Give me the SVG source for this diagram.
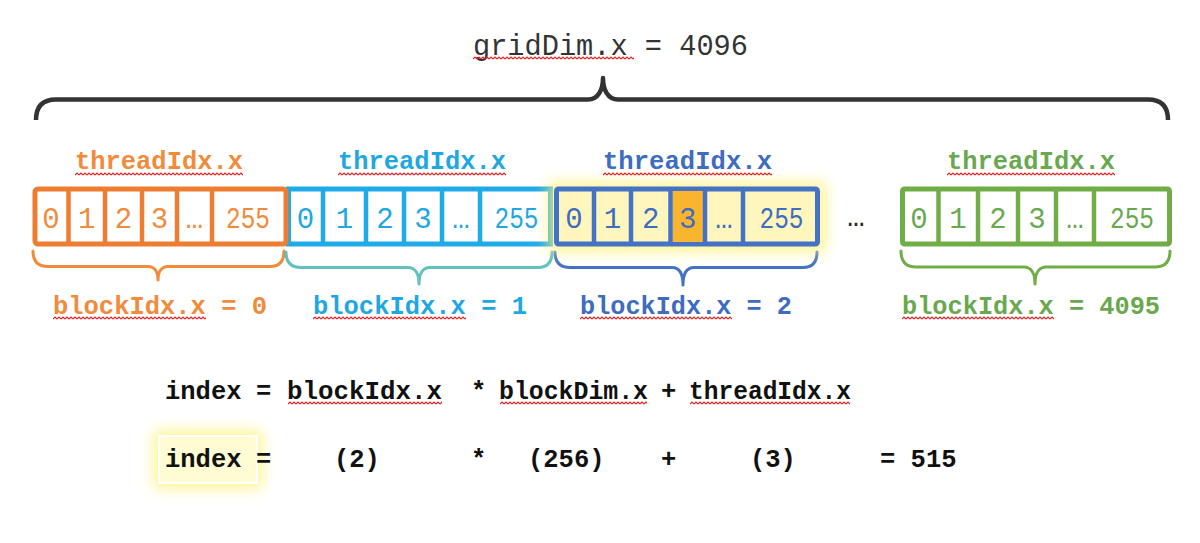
<svg xmlns="http://www.w3.org/2000/svg" width="1200" height="543" viewBox="0 0 1200 543">
  <style>
    .mono { font-family: "Liberation Mono", "DejaVu Sans Mono", monospace; }
    .lbl { font-family: "Liberation Mono", "DejaVu Sans Mono", monospace; font-weight: bold; font-size: 25.5px; }
    .num { font-family: "Liberation Mono", "DejaVu Sans Mono", monospace; font-size: 29px; text-anchor: middle; }
    .frm { font-family: "Liberation Mono", "DejaVu Sans Mono", monospace; font-weight: bold; font-size: 25.5px; fill: #111; }
    .brace { fill: none; stroke-width: 3; stroke-linecap: round; stroke-linejoin: round; }
    .sep { stroke-width: 4.5; }
    .box { stroke-width: 5; }
  </style>
  <defs>
    <pattern id="squig" width="4" height="4" patternUnits="userSpaceOnUse">
      <path d="M0,3 L2,1 L4,3" fill="none" stroke="#e31b1b" stroke-width="1.1"/>
    </pattern>
    <filter id="glow" x="-30%" y="-60%" width="160%" height="220%">
      <feGaussianBlur stdDeviation="7"/>
    </filter>
  </defs>
  <rect width="1200" height="543" fill="#ffffff"/>

  <!-- grid dimension label and big brace -->
  <g id="gridDim">
    <text class="mono" x="473" y="55" font-size="29" fill="#333333" textLength="275" lengthAdjust="spacingAndGlyphs">gridDim.x = 4096</text>
    <rect transform="translate(473,56)" width="161" height="4" fill="url(#squig)"/>
  </g>

  <g id="braces">
    <path d="M36,120 Q36,99.5 56,99.5 L588,99.5 C598,99.5 603,90 603,78 C603,90 608,99.5 618,99.5 L1148,99.5 Q1168,99.5 1168,120" fill="none" stroke="#333333" stroke-width="4.5" stroke-linejoin="round"/>
    <path class="brace" stroke="#ef8b3b" d="M33,251 Q33,266.5 48,266.5 L148,266.5 C154,266.5 158,271 158,280 C158,271 162,266.5 168,266.5 L270,266.5 Q284,266.5 284,251"/>
    <path class="brace" stroke="#62c0bd" d="M286,252 Q286,267.5 301,267.5 L408,267.5 C414,267.5 419,272 419,284 C419,272 424,267.5 430,267.5 L538,267.5 Q552,267.5 552,252"/>
    <path class="brace" stroke="#4472c4" d="M555,252 Q555,267.5 570,267.5 L672,267.5 C678,267.5 683,272 683,285 C683,272 688,267.5 694,267.5 L803,267.5 Q817,267.5 817,252"/>
    <path class="brace" stroke="#70ad47" d="M901,251 Q901,267 916,267 L1024,267 C1030,267 1035,272 1035,284 C1035,272 1040,267 1046,267 L1155,267 Q1170,267 1170,251"/>
  </g>

  <!-- block 1 (cyan) -->
  <g id="block1">
    <text class="lbl" x="338" y="169" fill="#1ea7e1" textLength="168" lengthAdjust="spacingAndGlyphs">threadIdx.x</text>
    <rect transform="translate(338,172)" width="168" height="4" fill="url(#squig)"/>
    <rect class="box" x="288.5" y="189" width="262" height="55" fill="#ffffff" stroke="#1faae8"/>
    <g class="sep" stroke="#1faae8">
      <line x1="323" y1="189" x2="323" y2="244"/>
      <line x1="366" y1="189" x2="366" y2="244"/>
      <line x1="404" y1="189" x2="404" y2="244"/>
      <line x1="442" y1="189" x2="442" y2="244"/>
      <line x1="480" y1="189" x2="480" y2="244"/>
    </g>
    <g class="num" fill="#1ea7e1">
      <text x="305.5" y="228">0</text>
      <text x="344.5" y="228">1</text>
      <text x="385" y="228">2</text>
      <text x="423" y="228">3</text>
      <text x="461" y="228">…</text>
      <text x="516.5" y="228" textLength="44" lengthAdjust="spacingAndGlyphs">255</text>
    </g>
    <text class="lbl" x="313" y="314" fill="#1ea7e1" textLength="214" lengthAdjust="spacingAndGlyphs">blockIdx.x = 1</text>
    <rect transform="translate(313,316)" width="153" height="4" fill="url(#squig)"/>
  </g>

  <!-- block 0 (orange) -->
  <g id="block0">
    <text class="lbl" x="75" y="169" fill="#ef8b3b" textLength="168" lengthAdjust="spacingAndGlyphs">threadIdx.x</text>
    <rect transform="translate(75,172)" width="168" height="4" fill="url(#squig)"/>
    <rect class="box" x="35" y="189" width="251" height="55" rx="3" fill="#ffffff" stroke="#ed7d31"/>
    <g class="sep" stroke="#ed7d31">
      <line x1="68.5" y1="189" x2="68.5" y2="244"/>
      <line x1="105" y1="189" x2="105" y2="244"/>
      <line x1="142" y1="189" x2="142" y2="244"/>
      <line x1="177" y1="189" x2="177" y2="244"/>
      <line x1="212" y1="189" x2="212" y2="244"/>
    </g>
    <g class="num" fill="#ef8b3b">
      <text x="51" y="228">0</text>
      <text x="86.75" y="228">1</text>
      <text x="123.5" y="228">2</text>
      <text x="159.5" y="228">3</text>
      <text x="194.5" y="228">…</text>
      <text x="248" y="228" textLength="44" lengthAdjust="spacingAndGlyphs">255</text>
    </g>
    <text class="lbl" x="53" y="314" fill="#ef8b3b" textLength="214" lengthAdjust="spacingAndGlyphs">blockIdx.x = 0</text>
    <rect transform="translate(53,316)" width="153" height="4" fill="url(#squig)"/>
  </g>

  <!-- block 2 (dark blue, highlighted) -->
  <g id="block2">
    <rect x="548" y="182" width="278" height="70" fill="#fff27a" opacity="0.8" filter="url(#glow)"/>
    <text class="lbl" x="603" y="169" fill="#3d6cc0" textLength="169" lengthAdjust="spacingAndGlyphs">threadIdx.x</text>
    <rect transform="translate(603,172)" width="169" height="4" fill="url(#squig)"/>
    <rect class="box" x="556.5" y="189" width="261" height="55" rx="2" fill="#fff6bd" stroke="#4472c4"/>
    <rect x="672.5" y="191" width="30.5" height="51" fill="#f9b52e"/>
    <g class="sep" stroke="#4472c4">
      <line x1="594" y1="189" x2="594" y2="244"/>
      <line x1="631" y1="189" x2="631" y2="244"/>
      <line x1="670.5" y1="189" x2="670.5" y2="244"/>
      <line x1="705" y1="189" x2="705" y2="244"/>
      <line x1="743" y1="189" x2="743" y2="244"/>
    </g>
    <g class="num" fill="#3d6cc0">
      <text x="574" y="228">0</text>
      <text x="612.5" y="228">1</text>
      <text x="650.75" y="228">2</text>
      <text x="687.75" y="228">3</text>
      <text x="724" y="228">…</text>
      <text x="781.5" y="228" textLength="44" lengthAdjust="spacingAndGlyphs">255</text>
    </g>
    <text class="lbl" x="580" y="314" fill="#3d6cc0" textLength="212" lengthAdjust="spacingAndGlyphs">blockIdx.x = 2</text>
    <rect transform="translate(580,316)" width="152" height="4" fill="url(#squig)"/>
  </g>

  <!-- ellipsis between blocks -->
  <text class="num" x="856" y="226" fill="#222222">…</text>

  <!-- block 4095 (green) -->
  <g id="block4095">
    <text class="lbl" x="947" y="169" fill="#6aa84f" textLength="168" lengthAdjust="spacingAndGlyphs">threadIdx.x</text>
    <rect transform="translate(947,172)" width="168" height="4" fill="url(#squig)"/>
    <rect class="box" x="902.5" y="189" width="267" height="55" rx="2" fill="#ffffff" stroke="#70ad47"/>
    <g class="sep" stroke="#70ad47">
      <line x1="938.5" y1="189" x2="938.5" y2="244"/>
      <line x1="978" y1="189" x2="978" y2="244"/>
      <line x1="1018" y1="189" x2="1018" y2="244"/>
      <line x1="1056" y1="189" x2="1056" y2="244"/>
      <line x1="1094" y1="189" x2="1094" y2="244"/>
    </g>
    <g class="num" fill="#6aa84f">
      <text x="919" y="228">0</text>
      <text x="958" y="228">1</text>
      <text x="998" y="228">2</text>
      <text x="1037" y="228">3</text>
      <text x="1075" y="228">…</text>
      <text x="1132" y="228" textLength="44" lengthAdjust="spacingAndGlyphs">255</text>
    </g>
    <text class="lbl" x="902" y="314" fill="#6aa84f" textLength="258" lengthAdjust="spacingAndGlyphs">blockIdx.x = 4095</text>
    <rect transform="translate(902,316)" width="152" height="4" fill="url(#squig)"/>
  </g>

  <!-- formula line 1 -->
  <g id="formula">
    <text class="frm" x="165" y="399">index</text>
    <text class="frm" x="256" y="399">=</text>
    <text class="frm" x="287" y="399" textLength="155" lengthAdjust="spacingAndGlyphs">blockIdx.x</text>
    <rect transform="translate(288,401)" width="154" height="4" fill="url(#squig)"/>
    <text class="frm" x="471" y="399">*</text>
    <text class="frm" x="499" y="399" textLength="149" lengthAdjust="spacingAndGlyphs">blockDim.x</text>
    <rect transform="translate(500,401)" width="147" height="4" fill="url(#squig)"/>
    <text class="frm" x="661" y="399">+</text>
    <text class="frm" x="689" y="399" textLength="162" lengthAdjust="spacingAndGlyphs">threadIdx.x</text>
    <rect transform="translate(690,401)" width="160" height="4" fill="url(#squig)"/>
  </g>

  <!-- formula line 2 -->
  <g id="result">
    <rect x="154" y="431" width="108" height="57" fill="#fff176" opacity="0.85" filter="url(#glow)"/>
    <rect x="159" y="436" width="98" height="47" fill="#fffbd2" stroke="#ffffff" stroke-width="2"/>
    <text class="frm" x="165" y="467">index</text>
    <text class="frm" x="256" y="467" fill="#3b3a12">=</text>
    <text class="frm" x="334" y="467">(2)</text>
    <text class="frm" x="471" y="467">*</text>
    <text class="frm" x="528" y="467">(256)</text>
    <text class="frm" x="661" y="467">+</text>
    <text class="frm" x="750" y="467">(3)</text>
    <text class="frm" x="880" y="467">= 515</text>
  </g>
</svg>
